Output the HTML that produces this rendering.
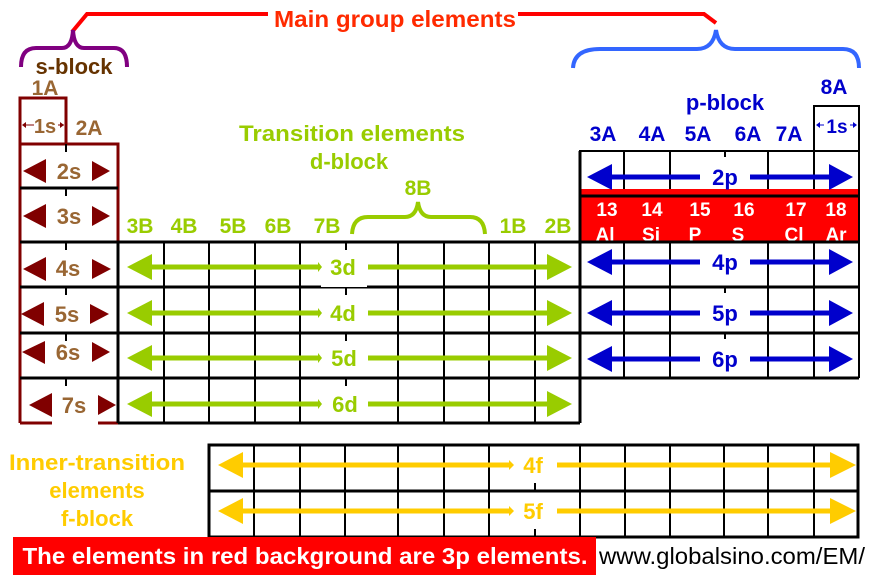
<!DOCTYPE html>
<html><head><meta charset="utf-8"><style>
html,body{margin:0;padding:0;background:#fff;}
svg{display:block;}
text{font-family:"Liberation Sans",Arial,sans-serif;font-weight:bold;}
</style></head><body>
<svg width="875" height="576" viewBox="0 0 875 576" xmlns="http://www.w3.org/2000/svg">
<!-- Main group line -->
<polyline points="72,32 87,14 268,14" fill="none" stroke="#ff0000" stroke-width="4"/>
<polyline points="518,14 704,14 716,23" fill="none" stroke="#ff0000" stroke-width="4"/>
<text x="395" y="27" font-size="23" fill="#ff2a00" text-anchor="middle" textLength="242" lengthAdjust="spacingAndGlyphs">Main group elements</text>
<!-- s-block brace -->
<path d="M21,67 Q21,48 36,48 L62,48 Q72,48 73,30 Q74,48 84,48 L114,48 Q127,48 127,67" fill="none" stroke="#800080" stroke-width="4"/>
<text x="74" y="74" font-size="22" fill="#663300" text-anchor="middle">s-block</text>
<!-- p-block brace -->
<path d="M573,68 Q574,49 600,49 L697,49 Q713,49 716,30 Q719,49 735,49 L843,49 Q859,49 859,68" fill="none" stroke="#3366ff" stroke-width="4"/>
<!-- 8B brace -->
<path d="M352,234 Q353,217 368,217 L405,217 Q416,217 418,202 Q420,217 431,217 L470,217 Q484,217 485,234" fill="none" stroke="#99cc00" stroke-width="4"/>

<!-- labels -->
<text x="45" y="95" font-size="21" fill="#996633" text-anchor="middle">1A</text>
<text x="89" y="135" font-size="21" fill="#996633" text-anchor="middle">2A</text>
<text x="352" y="141" font-size="22" fill="#99cc00" text-anchor="middle" textLength="226" lengthAdjust="spacingAndGlyphs">Transition elements</text>
<text x="349" y="169" font-size="22" fill="#99cc00" text-anchor="middle">d-block</text>
<text x="418" y="195" font-size="21" fill="#99cc00" text-anchor="middle">8B</text>
<g font-size="21" fill="#99cc00" text-anchor="middle">
<text x="140" y="233">3B</text><text x="184" y="233">4B</text><text x="233" y="233">5B</text><text x="278" y="233">6B</text><text x="327" y="233">7B</text><text x="513" y="233">1B</text><text x="558" y="233">2B</text>
</g>
<text x="725" y="110" font-size="22" fill="#0000cc" text-anchor="middle">p-block</text>
<text x="834" y="94" font-size="21" fill="#0000cc" text-anchor="middle">8A</text>
<g font-size="21" fill="#0000cc" text-anchor="middle">
<text x="603" y="141">3A</text><text x="652" y="141">4A</text><text x="698" y="141">5A</text><text x="748" y="141">6A</text><text x="789" y="141">7A</text>
</g>

<!-- red band -->
<rect x="579" y="189" width="280" height="53" fill="#ff0000"/>
<line x1="579" y1="196" x2="859" y2="196" stroke="#000" stroke-width="3"/>
<g font-size="19" fill="#fff" text-anchor="middle">
<text x="607" y="216">13</text><text x="652" y="216">14</text><text x="700" y="216">15</text><text x="744" y="216">16</text><text x="796" y="216">17</text><text x="836" y="216">18</text>
<text x="605" y="241">Al</text><text x="651" y="241">Si</text><text x="695" y="241">P</text><text x="738" y="241">S</text><text x="794" y="241">Cl</text><text x="836" y="241">Ar</text>
</g>

<!-- s-block (dark red borders) -->
<g fill="none" stroke="#800000" stroke-width="3">
<polyline points="20,423 20,98 66,98 66,144"/>
<polyline points="20,144 118,144 118,242"/>
<line x1="20" y1="423" x2="118" y2="423"/>
</g>
<!-- black grid -->
<g stroke="#000" stroke-width="3" fill="none">
<line x1="20" y1="188" x2="118" y2="188"/>
<line x1="20" y1="242" x2="580" y2="242"/>
<line x1="20" y1="287" x2="859" y2="287"/>
<line x1="20" y1="333" x2="859" y2="333"/>
<line x1="20" y1="378" x2="859" y2="378"/>
<line x1="118" y1="423" x2="580" y2="423"/>
<line x1="118" y1="242" x2="118" y2="423"/>
<line x1="580" y1="151" x2="580" y2="423"/>
</g>
<g stroke="#000" stroke-width="2">
<line x1="164" y1="242" x2="164" y2="423"/><line x1="209" y1="242" x2="209" y2="423"/>
<line x1="255" y1="242" x2="255" y2="423"/><line x1="300" y1="242" x2="300" y2="423"/>
<line x1="398" y1="242" x2="398" y2="423"/><line x1="444" y1="242" x2="444" y2="423"/>
<line x1="489" y1="242" x2="489" y2="423"/><line x1="535" y1="242" x2="535" y2="423"/>
<line x1="346" y1="242" x2="346" y2="250"/><line x1="346" y1="287" x2="346" y2="295"/><line x1="346" y1="333" x2="346" y2="341"/><line x1="346" y1="378" x2="346" y2="386"/>
<line x1="66" y1="144" x2="66" y2="152"/><line x1="66" y1="188" x2="66" y2="196"/><line x1="66" y1="242" x2="66" y2="250"/><line x1="66" y1="287" x2="66" y2="295"/><line x1="66" y1="333" x2="66" y2="341"/><line x1="66" y1="378" x2="66" y2="386"/>
</g>
<!-- p-block grid -->
<g stroke="#000" stroke-width="2" fill="none">
<line x1="579" y1="151" x2="859" y2="151"/>
<polyline points="814,151 814,106 859,106 859,378"/>
<line x1="624" y1="151" x2="624" y2="189"/><line x1="670" y1="151" x2="670" y2="189"/><line x1="768" y1="151" x2="768" y2="189"/><line x1="814" y1="151" x2="814" y2="189"/>
<line x1="624" y1="242" x2="624" y2="378"/><line x1="670" y1="242" x2="670" y2="378"/><line x1="768" y1="242" x2="768" y2="378"/><line x1="814" y1="242" x2="814" y2="378"/>
<line x1="725" y1="151" x2="725" y2="157"/><line x1="725" y1="287" x2="725" y2="293"/><line x1="725" y1="333" x2="725" y2="339"/>
</g>
<line x1="579" y1="242" x2="859" y2="242" stroke="#000" stroke-width="3"/>

<!-- s arrows & labels -->
<g fill="#800000">
<polygon points="22,125 26,122 26,128"/><line x1="24" y1="125" x2="34" y2="125" stroke="#800000" stroke-width="1"/>
<polygon points="64,125 60,122 60,128"/><line x1="58" y1="125" x2="64" y2="125" stroke="#800000" stroke-width="1"/>
<polygon points="23,171 46,159 46,183"/><polygon points="110,171 92,161 92,181"/>
<polygon points="23,216 46,204 46,228"/><polygon points="110,216 92,206 92,226"/>
<polygon points="23,269 46,257 46,281"/><polygon points="111,269 92,259 92,279"/>
<polygon points="21,314 44,302 44,326"/><polygon points="109,314 90,304 90,324"/>
<polygon points="22,352 45,341 45,364"/><polygon points="110,352 92,342 92,362"/>
<polygon points="29,405 52,393 52,417"/><polygon points="116,405 98,395 98,415"/>
</g>
<g font-size="22" fill="#996633" text-anchor="middle">
<text x="45" y="133" font-size="20">1s</text>
<text x="69" y="179">2s</text><text x="69" y="224">3s</text><text x="68" y="276">4s</text><text x="67" y="322">5s</text><text x="68" y="360">6s</text><text x="74" y="413">7s</text>
</g>
<rect x="52" y="416" width="46" height="9" fill="#fff"/>

<!-- d arrows -->
<defs>
<g id="darr" fill="#99cc00">
<polygon points="127,267 152,254 152,280"/>
<rect x="150" y="264.5" width="170" height="5"/>
<polygon points="318,262 322,267 318,272"/>
<rect x="368" y="264.5" width="180" height="5"/>
<polygon points="572,267 547,254 547,280"/>
</g>
<g id="parr" fill="#0000cc">
<polygon points="587,177 612,164 612,190"/>
<rect x="610" y="174.5" width="90" height="5"/>
<rect x="750" y="174.5" width="90" height="5"/>
<polygon points="853,177 829,164 829,190"/>
</g>
<g id="farr" fill="#ffcc00">
<polygon points="218,465 243,452 243,478"/>
<rect x="241" y="462.5" width="270" height="5"/>
<polygon points="509,460 514,465 509,470"/>
<rect x="557" y="462.5" width="275" height="5"/>
<polygon points="856,465 830,452 830,478"/>
</g>
</defs>
<rect x="321" y="255" width="46" height="32" fill="#fff"/>
<use href="#darr"/>
<use href="#darr" transform="translate(0,46)"/>
<use href="#darr" transform="translate(0,91)"/>
<use href="#darr" transform="translate(0,137)"/>
<g font-size="22" fill="#99cc00" text-anchor="middle">
<text x="343" y="275">3d</text><text x="343" y="321">4d</text><text x="344" y="366">5d</text><text x="345" y="412">6d</text>
</g>

<!-- p arrows -->
<use href="#parr"/>
<use href="#parr" transform="translate(0,85)"/>
<use href="#parr" transform="translate(0,136)"/>
<use href="#parr" transform="translate(0,182)"/>
<g font-size="22" fill="#0000cc" text-anchor="middle">
<text x="725" y="185">2p</text><text x="725" y="270">4p</text><text x="725" y="321">5p</text><text x="725" y="367">6p</text>
</g>
<text x="837" y="133" font-size="19" fill="#0000cc" text-anchor="middle">1s</text>
<polygon points="816,125 820,122 820,128" fill="#0000cc"/><polygon points="857,125 853,122 853,128" fill="#0000cc"/>
<line x1="817" y1="125" x2="824" y2="125" stroke="#0000cc"/><line x1="850" y1="125" x2="856" y2="125" stroke="#0000cc"/>

<!-- f-block -->
<g stroke="#000" stroke-width="3" fill="none">
<rect x="209" y="445" width="649" height="92"/>
<line x1="209" y1="491" x2="858" y2="491"/>
</g>
<g stroke="#000" stroke-width="2">
<line x1="254" y1="445" x2="254" y2="537"/><line x1="300" y1="445" x2="300" y2="537"/><line x1="345" y1="445" x2="345" y2="537"/><line x1="398" y1="445" x2="398" y2="537"/><line x1="444" y1="445" x2="444" y2="537"/><line x1="489" y1="445" x2="489" y2="537"/><line x1="580" y1="445" x2="580" y2="537"/><line x1="625" y1="445" x2="625" y2="537"/><line x1="670" y1="445" x2="670" y2="537"/><line x1="724" y1="445" x2="724" y2="537"/><line x1="768" y1="445" x2="768" y2="537"/><line x1="814" y1="445" x2="814" y2="537"/>
<line x1="535" y1="483" x2="535" y2="491"/><line x1="535" y1="529" x2="535" y2="537"/>
</g>
<use href="#farr"/>
<use href="#farr" transform="translate(0,46)"/>
<g font-size="22" fill="#ffcc00" text-anchor="middle">
<text x="533" y="473">4f</text><text x="533" y="519">5f</text>
<text x="97" y="470" textLength="176" lengthAdjust="spacingAndGlyphs">Inner-transition</text>
<text x="97" y="498">elements</text>
<text x="97" y="526">f-block</text>
</g>

<!-- banner -->
<rect x="13" y="537" width="583" height="38" fill="#ff0000"/>
<text x="305" y="564" font-size="23" fill="#fff" text-anchor="middle" textLength="565" lengthAdjust="spacingAndGlyphs">The elements in red background are 3p elements.</text>
<text x="732" y="564" font-size="23" fill="#000" text-anchor="middle" style="font-weight:normal" textLength="266" lengthAdjust="spacingAndGlyphs">www.globalsino.com/EM/</text>
</svg>
</body></html>
